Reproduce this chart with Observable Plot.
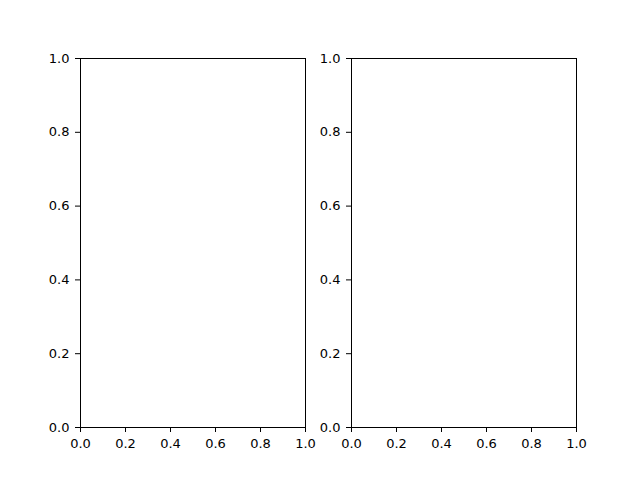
<!DOCTYPE html>
<html>
<head>
<meta charset="utf-8">
<script src="https://cdn.jsdelivr.net/npm/d3@7"></script>
<script src="https://cdn.jsdelivr.net/npm/@observablehq/plot@0.6"></script>
<style>
  html, body { margin: 0; padding: 0; background: #fff; }
  #wrap { position: relative; width: 640px; height: 480px; overflow: hidden; }
  .panel { position: absolute; top: 0; }
</style>
</head>
<body>
<div id="wrap"></div>
<script>
const xDomain = [0, 1];
const yDomain = [0, 1];
const xTicks = [0, 0.2, 0.4, 0.6, 0.8, 1.0];
const yTicks = [0, 0.2, 0.4, 0.6, 0.8, 1.0];

const panels = [
  {left: 0, marginLeft: 80, marginRight: 15},
  {left: 320, marginLeft: 31, marginRight: 64}
];

const wrap = document.getElementById("wrap");
for (const p of panels) {
  const chart = Plot.plot({
    width: 320,
    height: 480,
    marginLeft: p.marginLeft,
    marginRight: p.marginRight,
    marginTop: 58,
    marginBottom: 53,
    style: {fontFamily: "DejaVu Sans", fontSize: "13px", color: "black", background: "white", overflow: "visible"},
    x: {domain: xDomain},
    y: {domain: yDomain},
    marks: [
      Plot.axisX({ticks: xTicks, tickFormat: d3.format(".1f"), tickSize: 5, tickPadding: 6, label: null, stroke: "black", fill: "black", strokeWidth: 1}),
      Plot.axisY({ticks: yTicks, tickFormat: d3.format(".1f"), tickSize: 5, tickPadding: 6, label: null, stroke: "black", fill: "black", strokeWidth: 1}),
      Plot.frame({stroke: "black", strokeWidth: 1})
    ]
  });
  chart.classList.add("panel");
  chart.style.left = p.left + "px";
  wrap.appendChild(chart);
}
</script>
</body>
</html>
